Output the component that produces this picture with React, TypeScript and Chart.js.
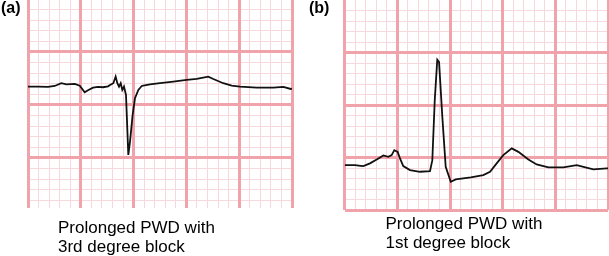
import React, { useEffect, useRef } from "react";
import { Chart, registerables } from "chart.js";

Chart.register(...registerables);

// Panel (a): time and amplitude, in small-square units of the ECG paper
const aTimes = [0, 0.95, 1.89, 2.53, 3.15, 3.64, 4.43, 4.9, 5.37, 5.68, 6.16, 6.63, 7.1, 7.58, 7.77, 8.08, 8.3, 8.46, 8.62, 8.78, 8.93, 9.09, 9.28, 9.5, 9.66, 9.91, 10.13, 10.45, 10.77, 10.92, 11.55, 12.5, 13.76, 15.03, 15.98, 17.07, 17.55, 18.49, 19.29, 20.08, 21.66, 23.23, 24.18, 24.88, 25];
const aVolts = [6.73, 6.73, 6.7, 6.79, 7.05, 6.95, 6.98, 6.82, 6.2, 6.39, 6.63, 6.7, 6.67, 6.76, 6.89, 7.05, 7.67, 7.05, 6.73, 7.05, 6.42, 6.73, 5.94, 0.28, 1.54, 4.06, 5.63, 6.42, 6.79, 6.82, 6.95, 7.05, 7.2, 7.36, 7.45, 7.67, 7.45, 7.05, 6.82, 6.73, 6.63, 6.63, 6.7, 6.51, 6.55];

// Panel (b)
const bTimes = [0, 0.98, 1.52, 1.77, 2.4, 3.04, 3.67, 4.14, 4.46, 4.71, 5.03, 5.25, 5.56, 6.2, 7.15, 8.1, 8.32, 8.55, 8.79, 8.96, 9.27, 9.59, 10.07, 10.54, 11.97, 13.16, 13.8, 14.43, 15.06, 15.86, 16.49, 17.44, 18.23, 19.34, 20.76, 22.03, 23.04, 23.61, 24.88, 25];
const bVolts = [4.29, 4.29, 4.22, 4.19, 4.45, 4.83, 5.21, 5.08, 5.24, 5.71, 5.55, 4.92, 4.19, 3.81, 3.65, 3.71, 4.76, 10.48, 14.35, 14.12, 8.89, 4.12, 2.7, 2.92, 3.11, 3.33, 3.65, 4.45, 5.24, 5.88, 5.55, 4.83, 4.35, 4.07, 4.07, 4.29, 4.03, 3.88, 3.97, 3.97];

// Grid tick values (small squares); every 5th is a major line
const xGridTicks = Array.from({ length: 26 }, (_, i) => i);
const aGridTicks = [-4, -3, -2, -1, 0, 1, 2, 3, 4, 5, 6, 7, 8, 9, 10, 11, 12, 13, 14];
const bGridTicks = [0, 1, 2, 3, 4, 5, 6, 7, 8, 9, 10, 11, 12, 13, 14, 15, 16, 17, 18, 19];

const MAJOR = "#f0a3ab";
const MINOR = "#f7d8dc";

type PanelProps = {
  times: number[];
  volts: number[];
  yTicks: number[];
  yMin: number;
  yMax: number;
  padding: { left: number; right: number; top: number; bottom: number };
  left: number;
};

function gridAxis(
  pos: "bottom" | "left",
  min: number,
  max: number,
  ticks: number[],
  major: boolean
) {
  const vals = ticks.filter((v) => (Math.round(v) % 5 === 0) === major);
  return {
    type: "linear" as const,
    position: pos,
    min,
    max,
    display: true,
    ticks: { display: false },
    border: { display: false },
    grid: {
      color: major ? MAJOR : MINOR,
      lineWidth: major ? 3 : 1,
      drawTicks: false,
      z: major ? -1 : -2,
    },
    afterBuildTicks: (s: any) => {
      s.ticks = vals.map((v) => ({ value: v }));
    },
  };
}

function Panel({ times, volts, yTicks, yMin, yMax, padding, left }: PanelProps) {
  const ref = useRef<HTMLCanvasElement | null>(null);
  useEffect(() => {
    if (!ref.current) return;
    const chart = new Chart(ref.current, {
      type: "line",
      data: {
        datasets: [
          {
            data: times.map((t, i) => ({ x: t, y: volts[i] })),
            borderColor: "#111111",
            borderWidth: 1.8,
            pointRadius: 0,
            tension: 0,
            fill: false,
            xAxisID: "x",
            yAxisID: "y",
          },
        ],
      },
      options: {
        animation: false,
        responsive: false,
        devicePixelRatio: 1,
        layout: { padding },
        plugins: { legend: { display: false }, tooltip: { enabled: false } },
        scales: {
          xm: gridAxis("bottom", 0, 25, xGridTicks, false),
          ym: gridAxis("left", yMin, yMax, yTicks, false),
          x: gridAxis("bottom", 0, 25, xGridTicks, true),
          y: gridAxis("left", yMin, yMax, yTicks, true),
        } as any,
      },
    });
    return () => chart.destroy();
  }, []);
  return (
    <canvas
      ref={ref}
      width={305}
      height={256}
      style={{ position: "absolute", left, top: 0, width: 305, height: 256 }}
    />
  );
}

const textStyle: React.CSSProperties = {
  position: "absolute",
  fontFamily: '"Liberation Sans", Arial, sans-serif',
  fontSize: 17,
  lineHeight: "19px",
  color: "#000",
  whiteSpace: "nowrap",
};

const labelStyle: React.CSSProperties = {
  position: "absolute",
  fontFamily: '"Liberation Sans", Arial, sans-serif',
  fontSize: 16,
  fontWeight: "bold",
  lineHeight: "16px",
  color: "#000",
  top: 0,
};

export default function App() {
  return (
    <div
      style={{
        position: "fixed",
        left: 0,
        top: 0,
        width: 609,
        height: 256,
        background: "#fff",
        overflow: "hidden",
      }}
    >
      <Panel
        times={aTimes}
        volts={aVolts}
        yTicks={aGridTicks}
        yMin={-4.72}
        yMax={14.9}
        padding={{ left: 28, right: 13, top: 0, bottom: 48 }}
        left={0}
      />
      <Panel
        times={bTimes}
        volts={bVolts}
        yTicks={bGridTicks}
        yMin={0}
        yMax={20.05}
        padding={{ left: 40.7, right: 1, top: 0, bottom: 46 }}
        left={304}
      />
      <div style={{ ...labelStyle, left: 1 }}>(a)</div>
      <div style={{ ...labelStyle, left: 309 }}>(b)</div>
      <div style={{ ...textStyle, left: 58, top: 218 }}>
        Prolonged PWD with
        <br />
        3rd degree block
      </div>
      <div style={{ ...textStyle, left: 385.5, top: 214 }}>
        Prolonged PWD with
        <br />
        1st degree block
      </div>
    </div>
  );
}
